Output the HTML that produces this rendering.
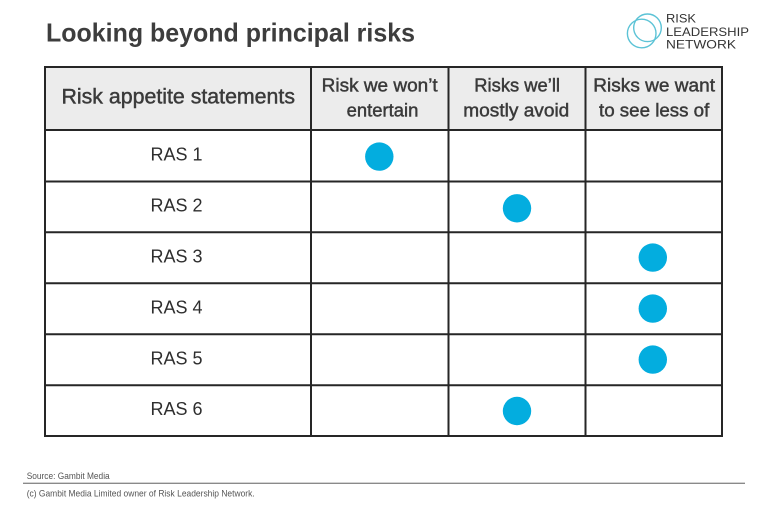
<!DOCTYPE html>
<html><head><meta charset="utf-8"><style>
html,body{margin:0;padding:0;background:#fff;}
svg{display:block;}
text{font-family:"Liberation Sans",sans-serif;}
</style></head><body>
<svg width="768" height="512" viewBox="0 0 768 512" xmlns="http://www.w3.org/2000/svg">
<rect width="768" height="512" fill="#fff"/>
<!-- title -->
<text x="46" y="41.7" font-size="26" font-weight="bold" fill="#3d3d3d" textLength="369" lengthAdjust="spacingAndGlyphs">Looking beyond principal risks</text>
<!-- logo -->
<circle cx="641.7" cy="33.5" r="14.3" fill="none" stroke="#5cc3d6" stroke-width="1.4"/>
<circle cx="647.5" cy="27.8" r="13.8" fill="none" stroke="#5cc3d6" stroke-width="1.4"/>
<text x="666" y="22.7" font-size="12" fill="#333" textLength="30" lengthAdjust="spacingAndGlyphs">RISK</text>
<text x="666" y="36" font-size="12" fill="#333" textLength="83" lengthAdjust="spacingAndGlyphs">LEADERSHIP</text>
<text x="666" y="48.3" font-size="12" fill="#333" textLength="70" lengthAdjust="spacingAndGlyphs">NETWORK</text>
<!-- table header bg -->
<rect x="45" y="67" width="677" height="63" fill="#ececec"/>
<!-- header text -->
<g fill="#3a3a3a" stroke="#3a3a3a" stroke-width="0.45">
<text x="61.5" y="103.3" font-size="21" textLength="233.5" lengthAdjust="spacingAndGlyphs">Risk appetite statements</text>
<text x="321.7" y="91.7" font-size="18" textLength="116" lengthAdjust="spacingAndGlyphs">Risk we won’t</text>
<text x="346.7" y="116.7" font-size="18" textLength="71.7" lengthAdjust="spacingAndGlyphs">entertain</text>
<text x="474.3" y="91.7" font-size="18" textLength="85.7" lengthAdjust="spacingAndGlyphs">Risks we’ll</text>
<text x="463.3" y="116.7" font-size="18" textLength="106" lengthAdjust="spacingAndGlyphs">mostly avoid</text>
<text x="593.3" y="91.7" font-size="18" textLength="121.7" lengthAdjust="spacingAndGlyphs">Risks we want</text>
<text x="599" y="116.7" font-size="18" textLength="110.3" lengthAdjust="spacingAndGlyphs">to see less of</text>
</g>
<!-- row labels -->
<g fill="#2e2e2e" font-size="18.5">
<text x="150.5" y="160.7" textLength="52" lengthAdjust="spacingAndGlyphs">RAS 1</text>
<text x="150.5" y="211.7" textLength="52" lengthAdjust="spacingAndGlyphs">RAS 2</text>
<text x="150.5" y="262.7" textLength="52" lengthAdjust="spacingAndGlyphs">RAS 3</text>
<text x="150.5" y="313.7" textLength="52" lengthAdjust="spacingAndGlyphs">RAS 4</text>
<text x="150.5" y="364.7" textLength="52" lengthAdjust="spacingAndGlyphs">RAS 5</text>
<text x="150.5" y="415.2" textLength="52" lengthAdjust="spacingAndGlyphs">RAS 6</text>
</g>
<!-- dots -->
<g fill="#03addf">
<circle cx="379.3" cy="156.6" r="14.2"/>
<circle cx="517" cy="208.3" r="14.2"/>
<circle cx="652.8" cy="257.6" r="14.2"/>
<circle cx="652.8" cy="308.6" r="14.2"/>
<circle cx="652.8" cy="359.6" r="14.2"/>
<circle cx="517" cy="411" r="14.2"/>
</g>
<!-- grid -->
<g stroke="#262626" stroke-width="2" fill="none">
<rect x="45" y="67" width="677" height="369"/>
<line x1="311" y1="67" x2="311" y2="436"/>
<line x1="448.5" y1="67" x2="448.5" y2="436"/>
<line x1="585.5" y1="67" x2="585.5" y2="436"/>
<line x1="45" y1="130" x2="722" y2="130"/>
<line x1="45" y1="181.5" x2="722" y2="181.5"/>
<line x1="45" y1="232.3" x2="722" y2="232.3"/>
<line x1="45" y1="283.3" x2="722" y2="283.3"/>
<line x1="45" y1="334.3" x2="722" y2="334.3"/>
<line x1="45" y1="385.2" x2="722" y2="385.2"/>
</g>
<!-- footer -->
<text x="26.7" y="479" font-size="9" fill="#555" textLength="83" lengthAdjust="spacingAndGlyphs">Source: Gambit Media</text>
<line x1="23" y1="483.3" x2="745" y2="483.3" stroke="#8a8a8a" stroke-width="1.4"/>
<text x="26.7" y="496.3" font-size="9" fill="#555" textLength="228" lengthAdjust="spacingAndGlyphs">(c) Gambit Media Limited owner of Risk Leadership Network.</text>
</svg>
</body></html>
